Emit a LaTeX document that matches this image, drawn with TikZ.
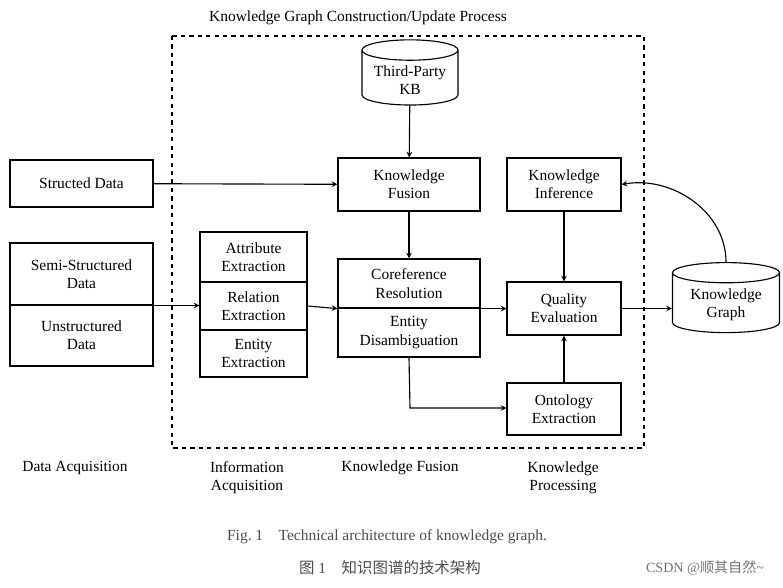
\documentclass[tikz,border=0pt]{standalone}
\usepackage{fontspec}
\setmainfont{Liberation Serif}
\newfontfamily\cjk{Noto Sans CJK SC}
\usetikzlibrary{shapes.geometric, arrows}
\tikzstyle{box} = [rectangle, draw=black, thick, align=center, inner sep=1pt, font=\fontsize{11}{13}\selectfont]
\tikzstyle{db} = [cylinder, shape border rotate=90, aspect=0.25, draw=black, thick, align=center, font=\fontsize{11}{13}\selectfont]
\tikzstyle{arrow} = [thick, ->, >=stealth]
\tikzstyle{lbl} = [align=center, font=\fontsize{11}{13}\selectfont]
\begin{document}
\begin{tikzpicture}[x=0.025cm, y=-0.025cm]
        \useasboundingbox (0,0) rectangle (783,587);
        \draw [thick, dashed] (172,36) rectangle (644,448);
        \node (title) [lbl] at (358,18) {Knowledge Graph Construction/Update Process};
        \node (kb) [db, minimum width=2.4cm, minimum height=1.6cm] at (410,80) {Third-Party\\KB};
        \node (struct) [box, minimum width=3.575cm, minimum height=1.175cm] at (81.5,183.5) {Structed Data};
        \node (semi) [box, minimum width=3.575cm, minimum height=1.55cm] at (81.5,274) {Semi-Structured\\Data};
        \node (unstr) [box, minimum width=3.575cm, minimum height=1.525cm] at (81.5,335.5) {Unstructured\\Data};
        \node (attr) [box, minimum width=2.675cm, minimum height=1.25cm] at (253.5,257) {Attribute\\Extraction};
        \node (rel) [box, minimum width=2.675cm, minimum height=1.2cm] at (253.5,306) {Relation\\Extraction};
        \node (ent) [box, minimum width=2.675cm, minimum height=1.175cm] at (253.5,353.5) {Entity\\Extraction};
        \node (fusion) [box, minimum width=3.55cm, minimum height=1.325cm] at (409,184.5) {Knowledge\\Fusion};
        \node (coref) [box, minimum width=3.55cm, minimum height=1.225cm] at (409,283.5) {Coreference\\Resolution};
        \node (disamb) [box, minimum width=3.55cm, minimum height=1.225cm] at (409,332.5) {Entity\\Disambiguation};
        \node (infer) [box, minimum width=2.85cm, minimum height=1.325cm] at (564,184.5) {Knowledge\\Inference};
        \node (quality) [box, minimum width=2.85cm, minimum height=1.325cm] at (564,308.5) {Quality\\Evaluation};
        \node (onto) [box, minimum width=2.85cm, minimum height=1.3cm] at (564,409) {Ontology\\Extraction};
        \node (kg) [db, minimum width=2.675cm, minimum height=1.75cm] at (726,305) {Knowledge\\Graph};
        \coordinate (bend) at (410,408);
        \draw [arrow] (struct) -- (fusion);
        \draw [arrow] (kb) -- (fusion);
        \draw [arrow] (semi.south east) -- (rel.west |- semi.south east);
        \draw [arrow] (rel.east) -- (coref.south west);
        \draw [arrow] (fusion) -- (coref);
        \draw [arrow] (coref.south east) -- (quality.west |- coref.south east);
        \draw [arrow] (infer) -- (quality);
        \draw [arrow] (onto) -- (quality);
        \draw [arrow] (disamb.south) -- (bend) -- (onto.west |- bend);
        \draw [arrow] (quality) -- (kg.west |- quality);
        \draw [arrow] (kg.top) to [out=90, in=10] (infer.east);
        \node (daq) [lbl] at (75,468) {Data Acquisition};
        \node (iaq) [lbl] at (247,478) {Information\\Acquisition};
        \node (kfu) [lbl] at (400,468) {Knowledge Fusion};
        \node (kpr) [lbl] at (563,478) {Knowledge\\Processing};
        \node (cap1) [lbl, text=black!70] at (387,537) {Fig.\ 1\quad Technical architecture of knowledge graph.};
        \node (cap2) [lbl, text=black!70] at (390,568) {{\cjk 图} 1\quad {\cjk 知识图谱的技术架构}};
        \node (mark) [lbl, text=black!55, font=\fontsize{10}{12}\selectfont] at (705,568) {CSDN @{\cjk 顺其自然}\textasciitilde};
\end{tikzpicture}
\end{document}
